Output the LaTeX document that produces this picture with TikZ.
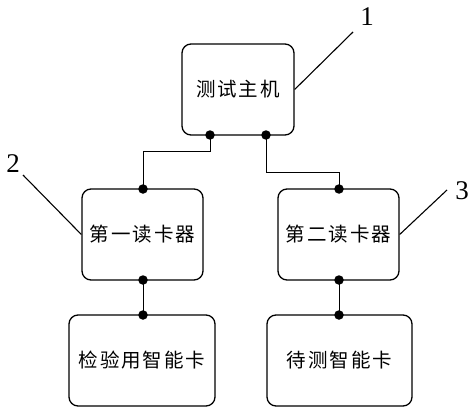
\documentclass[tikz,border=0pt]{standalone}
\usepackage{fontspec}
\setmainfont{Liberation Serif}
\newfontfamily\cjk[LetterSpace=10]{Noto Sans CJK SC}
\begin{document}
\begin{tikzpicture}[x=1pt,y=-1pt,
  box/.style={draw,line width=1.3pt,rounded corners=9pt,inner sep=0pt,font=\cjk\fontsize{19.5}{22}\selectfont},
  wire/.style={line width=1pt},
  jdot/.style={circle,fill=black,inner sep=0pt,minimum size=9.5pt},
  num/.style={font=\fontsize{27}{29}\selectfont,inner sep=0pt},
  lead/.style={line width=1.1pt}]
\useasboundingbox (0,0) rectangle (474,412);
\node[box,minimum width=112pt,minimum height=91pt] (host) at (238,89.5) {测试主机};
\node[box,minimum width=121pt,minimum height=91pt] (r1) at (142.5,234.5) {第一读卡器};
\node[box,minimum width=121pt,minimum height=91pt] (r2) at (338.5,234.5) {第二读卡器};
\node[box,minimum width=146pt,minimum height=91pt] (c1) at (142,360.5) {检验用智能卡};
\node[box,minimum width=145pt,minimum height=91pt] (c2) at (339.5,360.5) {待测智能卡};
% junction points
\coordinate (h1) at (210,135);
\coordinate (h2) at (266,135);
\coordinate (t1) at (143,189);
\coordinate (t2) at (339,189);
\coordinate (b1) at (143,280);
\coordinate (b2) at (339,280);
\coordinate (d1) at (143,315);
\coordinate (d2) at (339,315);
\draw[wire] (h1) |- (143,151) -- (t1);
\draw[wire] (h2) |- (339,172) -- (t2);
\draw[wire] (b1) -- (d1);
\draw[wire] (b2) -- (d2);
\foreach \p in {h1,h2,t1,t2,b1,b2,d1,d2} \node[jdot] at (\p) {};
% labels
\node[num] (n1) at (367,17) {1};
\node[num] (n2) at (13,164) {2};
\node[num] (n3) at (462,191) {3};
\coordinate (e1) at (353,32);
\coordinate (e2) at (23,175);
\coordinate (e3) at (447,190);
\draw[lead] (host.east) -- (e1);
\draw[lead] (r1.west) -- (e2);
\draw[lead] (r2.east) -- (e3);
\end{tikzpicture}
\end{document}
